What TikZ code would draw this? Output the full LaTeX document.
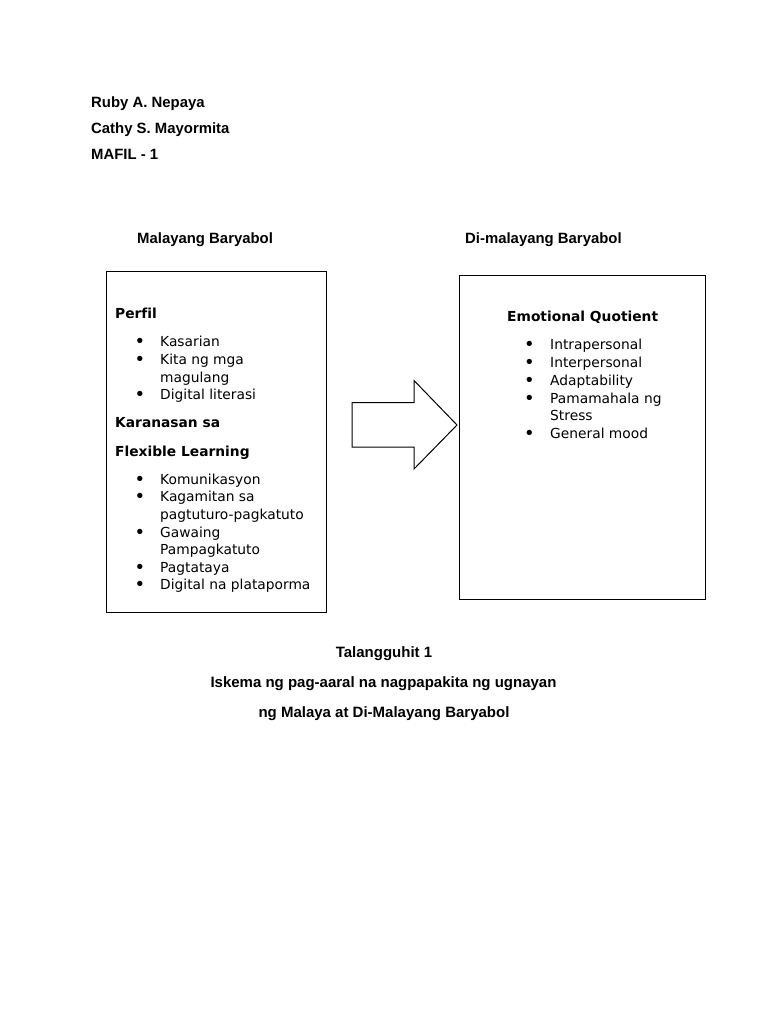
\documentclass[tikz,border=0pt]{standalone}
\usepackage{fontspec}
\setmainfont{Liberation Sans}
\newfontfamily\dv[Ligatures=NoCommon]{DejaVu Sans}
\begin{document}
\begin{tikzpicture}[x=1pt,y=-1pt,
  hdr/.style={anchor=base west,inner sep=0pt,font=\fontsize{14.9}{17}\selectfont\bfseries},
  captxt/.style={anchor=base,inner sep=0pt,font=\fontsize{15}{17}\selectfont\bfseries},
  itm/.style={anchor=base west,inner sep=0pt,font=\dv\fontsize{13.8}{17}\selectfont},
  ttl/.style={anchor=base west,inner sep=0pt,font=\dv\fontsize{13.8}{17}\selectfont\bfseries},
  bul/.style={anchor=base,inner sep=0pt,font=\dv\fontsize{15}{17}\selectfont\bfseries},
  frame/.style={draw,line width=1pt,anchor=north west,inner sep=0pt}]
\useasboundingbox[fill=white] (0,0) rectangle (768,1024);
% header
\node[hdr] (n1) at (91,108) {Ruby A. Nepaya};
\node[hdr] (n2) at (91,134) {Cathy S. Mayormita};
\node[hdr] (n3) at (91,160) {MAFIL - 1};
\node[hdr] (h1) at (137,243.5) {Malayang Baryabol};
\node[hdr] (h2) at (465,243.5) {Di-malayang Baryabol};
% boxes
\node[frame,minimum width=220pt,minimum height=341pt] (lbox) at (106,271) {};
\node[frame,minimum width=246pt,minimum height=324pt] (rbox) at (459,275) {};
% arrow
\draw[line width=1pt,line join=miter] (352,402.5) -- (414,402.5) -- (414,380.5) -- (457,425) -- (414,469) -- (414,447) -- (352,447) -- cycle;
% left box content
\node[ttl] (perfil) at (115,318) {Perfil};
\foreach \t/\y/\b [count=\i] in {Kasarian/346/1, Kita ng mga/364/1, magulang/382/0, Digital literasi/399/1}{
  \node[itm] (la\i) at (160,\y) {\t};
  \ifnum\b=1 \node[bul] (lab\i) at (140,\y) {•};\fi
}
\node[ttl] (kar) at (115,427) {Karanasan sa};
\node[ttl] (flex) at (115,456) {Flexible Learning};
\foreach \t/\y/\b [count=\i] in {Komunikasyon/484/1, Kagamitan sa/501.5/1, pagtuturo-pagkatuto/519/0, Gawaing/537/1, Pampagkatuto/554.5/0, Pagtataya/572/1, Digital na plataporma/589.5/1}{
  \node[itm] (lb\i) at (160,\y) {\t};
  \ifnum\b=1 \node[bul] (lbb\i) at (140,\y) {•};\fi
}
% right box content
\node[ttl] (eq) at (507,321) {Emotional Quotient};
\foreach \t/\y/\b [count=\i] in {Intrapersonal/349/1, Interpersonal/367/1, Adaptability/385/1, Pamamahala ng/403/1, Stress/420.5/0, General mood/438/1}{
  \node[itm] (r\i) at (550,\y) {\t};
  \ifnum\b=1 \node[bul] (rb\i) at (529.5,\y) {•};\fi
}
% caption
\node[captxt] (c1) at (384,657.5) {Talangguhit 1};
\node[captxt] (c2) at (383.5,687.5) {Iskema ng pag-aaral na nagpapakita ng ugnayan};
\node[captxt] (c3) at (384,717) {ng Malaya at Di-Malayang Baryabol};
\end{tikzpicture}
\end{document}
